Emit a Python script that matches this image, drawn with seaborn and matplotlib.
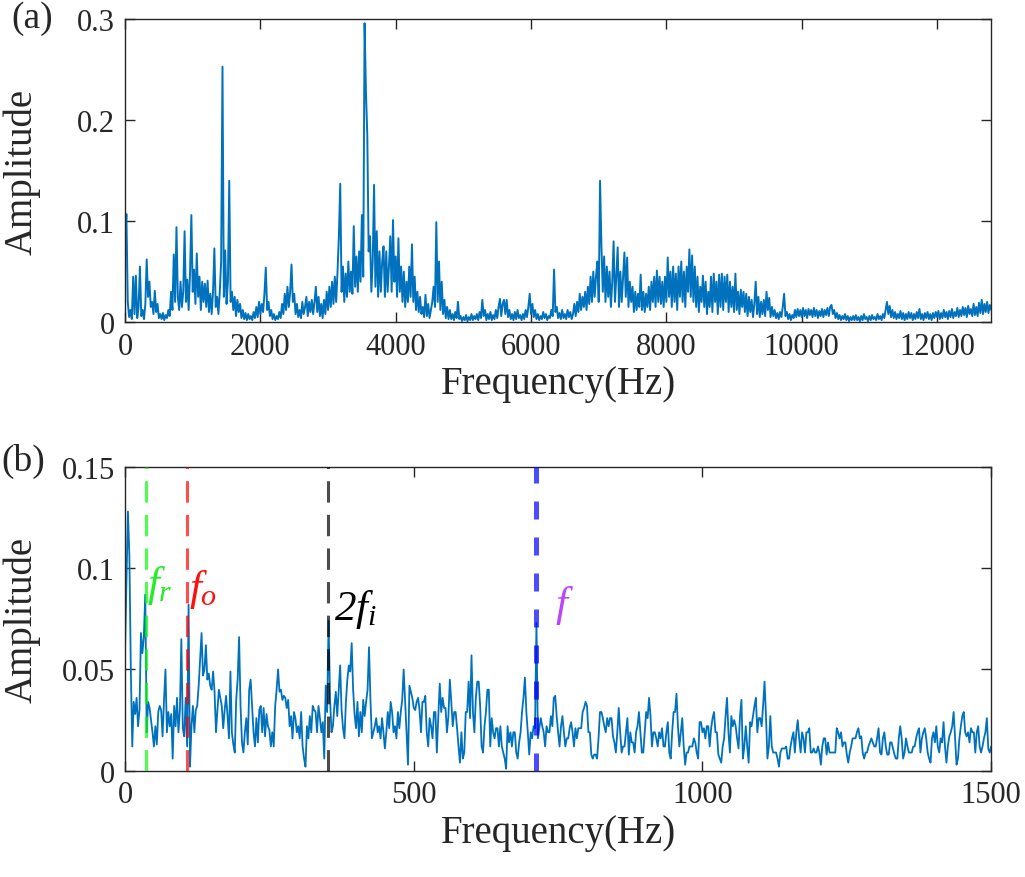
import numpy as np
import matplotlib
matplotlib.use('Agg')
import matplotlib.pyplot as plt
import seaborn as sns

# (a) full spectrum, 20 Hz bins
amp_a_0_3200 = [
    0.080, 0.107, 0.020, 0.005, 0.012, 0.003, 0.045, 0.008, 0.046, 0.004, 0.015, 0.055, 0.006, 0.012, 0.003, 0.018, 0.062, 0.025, 0.040, 0.015,
    0.020, 0.008, 0.031, 0.010, 0.018, 0.004, 0.008, 0.003, 0.009, 0.002, 0.007, 0.004, 0.012, 0.006, 0.030, 0.012, 0.067, 0.020, 0.094, 0.025,
    0.012, 0.040, 0.015, 0.030, 0.090, 0.020, 0.042, 0.012, 0.048, 0.106, 0.030, 0.052, 0.018, 0.068, 0.025, 0.045, 0.012, 0.040, 0.020, 0.038,
    0.015, 0.041, 0.010, 0.028, 0.008, 0.030, 0.073, 0.015, 0.025, 0.008, 0.030, 0.060, 0.253, 0.025, 0.071, 0.018, 0.040, 0.140, 0.020, 0.030,
    0.012, 0.025, 0.006, 0.022, 0.010, 0.018, 0.004, 0.012, 0.003, 0.009, 0.002, 0.008, 0.003, 0.006, 0.002, 0.010, 0.004, 0.015, 0.005, 0.020,
    0.008, 0.018, 0.010, 0.028, 0.054, 0.012, 0.020, 0.006, 0.012, 0.003, 0.008, 0.002, 0.006, 0.003, 0.010, 0.004, 0.018, 0.008, 0.028, 0.012,
    0.035, 0.015, 0.030, 0.057, 0.020, 0.028, 0.008, 0.018, 0.005, 0.012, 0.004, 0.020, 0.008, 0.015, 0.025, 0.006, 0.020, 0.010, 0.022, 0.008,
    0.020, 0.035, 0.010, 0.025, 0.006, 0.018, 0.004, 0.022, 0.008, 0.030, 0.012, 0.035, 0.015, 0.040, 0.018, 0.045, 0.020, 0.050, 0.085, 0.137,
]
amp_a_3200_6400 = [
    0.030, 0.055, 0.020, 0.048, 0.025, 0.060, 0.030, 0.050, 0.028, 0.095, 0.035, 0.065, 0.030, 0.070, 0.040, 0.106, 0.045, 0.296, 0.228, 0.185,
    0.070, 0.085, 0.030, 0.060, 0.136, 0.035, 0.090, 0.025, 0.070, 0.030, 0.060, 0.075, 0.025, 0.070, 0.030, 0.055, 0.085, 0.030, 0.101, 0.040,
    0.065, 0.025, 0.083, 0.030, 0.055, 0.020, 0.050, 0.015, 0.040, 0.020, 0.055, 0.025, 0.077, 0.020, 0.045, 0.012, 0.030, 0.010, 0.025, 0.008,
    0.015, 0.005, 0.027, 0.006, 0.018, 0.004, 0.012, 0.020, 0.035, 0.015, 0.099, 0.020, 0.060, 0.012, 0.040, 0.008, 0.022, 0.004, 0.015, 0.003,
    0.012, 0.003, 0.008, 0.002, 0.010, 0.004, 0.020, 0.003, 0.006, 0.001, 0.005, 0.002, 0.007, 0.001, 0.005, 0.002, 0.008, 0.002, 0.006, 0.003,
    0.008, 0.002, 0.010, 0.004, 0.022, 0.006, 0.012, 0.002, 0.008, 0.003, 0.010, 0.002, 0.007, 0.003, 0.012, 0.004, 0.015, 0.023, 0.006, 0.018,
    0.022, 0.008, 0.022, 0.005, 0.012, 0.003, 0.008, 0.002, 0.010, 0.003, 0.012, 0.004, 0.007, 0.002, 0.008, 0.003, 0.012, 0.005, 0.015, 0.028,
    0.008, 0.018, 0.005, 0.012, 0.003, 0.008, 0.002, 0.006, 0.003, 0.010, 0.004, 0.008, 0.002, 0.006, 0.004, 0.012, 0.006, 0.052, 0.010, 0.015,
]
amp_a_6400_9600 = [
    0.004, 0.009, 0.003, 0.012, 0.004, 0.008, 0.003, 0.012, 0.005, 0.010, 0.003, 0.008, 0.018, 0.006, 0.020, 0.010, 0.028, 0.012, 0.025, 0.015,
    0.030, 0.012, 0.035, 0.018, 0.045, 0.020, 0.050, 0.025, 0.045, 0.060, 0.020, 0.140, 0.076, 0.030, 0.065, 0.020, 0.055, 0.025, 0.050, 0.015,
    0.040, 0.080, 0.020, 0.045, 0.074, 0.015, 0.050, 0.020, 0.045, 0.069, 0.025, 0.064, 0.015, 0.040, 0.020, 0.035, 0.010, 0.030, 0.012, 0.028,
    0.015, 0.047, 0.012, 0.030, 0.010, 0.028, 0.015, 0.035, 0.012, 0.040, 0.020, 0.045, 0.015, 0.051, 0.020, 0.045, 0.018, 0.040, 0.015, 0.045,
    0.020, 0.064, 0.025, 0.050, 0.015, 0.055, 0.020, 0.048, 0.012, 0.055, 0.025, 0.060, 0.020, 0.050, 0.015, 0.055, 0.030, 0.072, 0.025, 0.066,
    0.020, 0.055, 0.015, 0.045, 0.010, 0.035, 0.020, 0.046, 0.015, 0.040, 0.008, 0.030, 0.015, 0.045, 0.010, 0.048, 0.020, 0.040, 0.008, 0.047,
    0.015, 0.048, 0.012, 0.045, 0.020, 0.047, 0.010, 0.040, 0.015, 0.035, 0.010, 0.048, 0.012, 0.030, 0.008, 0.032, 0.015, 0.030, 0.010, 0.028,
    0.006, 0.025, 0.010, 0.022, 0.005, 0.018, 0.040, 0.008, 0.025, 0.005, 0.020, 0.008, 0.022, 0.006, 0.030, 0.012, 0.024, 0.005, 0.015, 0.006,
]
amp_a_9600_12800 = [
    0.012, 0.004, 0.009, 0.003, 0.010, 0.005, 0.015, 0.028, 0.006, 0.010, 0.003, 0.008, 0.002, 0.007, 0.004, 0.012, 0.005, 0.013, 0.006, 0.012,
    0.005, 0.014, 0.006, 0.012, 0.004, 0.013, 0.007, 0.012, 0.005, 0.014, 0.006, 0.012, 0.004, 0.011, 0.006, 0.013, 0.005, 0.012, 0.007, 0.014,
    0.006, 0.015, 0.017, 0.008, 0.012, 0.004, 0.009, 0.003, 0.007, 0.002, 0.006, 0.003, 0.008, 0.002, 0.006, 0.001, 0.005, 0.002, 0.006, 0.002,
    0.007, 0.002, 0.005, 0.001, 0.006, 0.002, 0.008, 0.003, 0.005, 0.001, 0.006, 0.002, 0.007, 0.003, 0.005, 0.002, 0.008, 0.003, 0.006, 0.002,
    0.008, 0.004, 0.012, 0.020, 0.008, 0.016, 0.005, 0.012, 0.004, 0.010, 0.003, 0.008, 0.004, 0.011, 0.003, 0.009, 0.002, 0.008, 0.003, 0.010,
    0.004, 0.009, 0.002, 0.008, 0.003, 0.010, 0.004, 0.013, 0.003, 0.008, 0.002, 0.009, 0.004, 0.010, 0.003, 0.008, 0.002, 0.009, 0.004, 0.010,
    0.005, 0.011, 0.003, 0.009, 0.004, 0.012, 0.005, 0.010, 0.003, 0.011, 0.005, 0.013, 0.004, 0.010, 0.006, 0.014, 0.005, 0.012, 0.006, 0.015,
    0.007, 0.014, 0.005, 0.016, 0.008, 0.013, 0.006, 0.018, 0.007, 0.015, 0.006, 0.019, 0.009, 0.022, 0.008, 0.018, 0.010, 0.020, 0.009, 0.017, 0.012,
]

# (b) envelope spectrum 0-1500 Hz, 2.5 Hz bins
amp_b_0_500 = [
    0.060, 0.095, 0.128, 0.106, 0.050, 0.012, 0.034, 0.028, 0.036, 0.022, 0.030, 0.068, 0.058, 0.066, 0.087, 0.019, 0.034, 0.031, 0.025, 0.019,
    0.012, 0.022, 0.013, 0.029, 0.032, 0.030, 0.017, 0.035, 0.050, 0.019, 0.029, 0.022, 0.028, 0.006, 0.032, 0.022, 0.036, 0.019, 0.030, 0.065,
    0.021, 0.017, 0.036, 0.012, 0.082, 0.002, 0.022, 0.032, 0.019, 0.030, 0.032, 0.042, 0.055, 0.068, 0.047, 0.050, 0.062, 0.045, 0.048, 0.042,
    0.040, 0.049, 0.039, 0.019, 0.030, 0.040, 0.036, 0.032, 0.021, 0.030, 0.037, 0.027, 0.016, 0.049, 0.019, 0.013, 0.009, 0.035, 0.045, 0.066,
    0.032, 0.014, 0.009, 0.019, 0.026, 0.013, 0.040, 0.045, 0.032, 0.019, 0.012, 0.026, 0.014, 0.030, 0.032, 0.019, 0.031, 0.017, 0.028, 0.022,
    0.020, 0.012, 0.019, 0.012, 0.032, 0.040, 0.050, 0.039, 0.040, 0.035, 0.037, 0.036, 0.031, 0.035, 0.022, 0.027, 0.016, 0.029, 0.026, 0.019,
    0.022, 0.016, 0.029, 0.012, 0.006, 0.002, 0.022, 0.016, 0.027, 0.019, 0.032, 0.030, 0.029, 0.019, 0.032, 0.026, 0.019, 0.024, 0.006, 0.042,
    0.029, 0.074, 0.036, 0.019, 0.022, 0.032, 0.039, 0.027, 0.040, 0.052, 0.030, 0.021, 0.016, 0.034, 0.045, 0.052, 0.049, 0.063, 0.040, 0.028,
    0.021, 0.034, 0.017, 0.029, 0.019, 0.035, 0.027, 0.034, 0.040, 0.061, 0.035, 0.016, 0.019, 0.022, 0.026, 0.019, 0.022, 0.016, 0.026, 0.019,
    0.011, 0.019, 0.029, 0.021, 0.034, 0.029, 0.019, 0.022, 0.016, 0.029, 0.021, 0.029, 0.035, 0.050, 0.035, 0.019, 0.003, 0.042, 0.039, 0.036,
]
amp_b_500_1000 = [
    0.031, 0.030, 0.034, 0.036, 0.030, 0.019, 0.034, 0.034, 0.037, 0.019, 0.012, 0.026, 0.022, 0.016, 0.029, 0.029, 0.009, 0.027, 0.043, 0.029,
    0.036, 0.031, 0.031, 0.019, 0.027, 0.045, 0.034, 0.022, 0.029, 0.029, 0.021, 0.012, 0.004, 0.019, 0.006, 0.009, 0.029, 0.029, 0.044, 0.026,
    0.057, 0.029, 0.019, 0.036, 0.044, 0.044, 0.032, 0.012, 0.009, 0.022, 0.029, 0.040, 0.040, 0.012, 0.026, 0.019, 0.016, 0.021, 0.021, 0.012,
    0.022, 0.012, 0.009, 0.006, 0.001, 0.022, 0.014, 0.019, 0.012, 0.019, 0.019, 0.009, 0.006, 0.014, 0.019, 0.029, 0.036, 0.046, 0.029, 0.019,
    0.008, 0.019, 0.016, 0.022, 0.021, 0.073, 0.016, 0.021, 0.026, 0.022, 0.019, 0.012, 0.022, 0.019, 0.019, 0.027, 0.022, 0.036, 0.037, 0.027,
    0.019, 0.012, 0.022, 0.027, 0.019, 0.012, 0.016, 0.016, 0.021, 0.024, 0.019, 0.012, 0.021, 0.016, 0.021, 0.021, 0.021, 0.029, 0.031, 0.034,
    0.032, 0.019, 0.019, 0.008, 0.006, 0.008, 0.008, 0.006, 0.016, 0.029, 0.029, 0.026, 0.022, 0.019, 0.026, 0.022, 0.026, 0.026, 0.017, 0.014,
    0.009, 0.019, 0.031, 0.019, 0.009, 0.012, 0.012, 0.019, 0.026, 0.008, 0.019, 0.014, 0.014, 0.009, 0.019, 0.022, 0.029, 0.019, 0.009, 0.009,
    0.019, 0.029, 0.026, 0.036, 0.027, 0.012, 0.019, 0.019, 0.016, 0.012, 0.019, 0.016, 0.021, 0.012, 0.012, 0.019, 0.024, 0.009, 0.006, 0.019,
    0.029, 0.029, 0.038, 0.022, 0.012, 0.019, 0.026, 0.012, 0.003, 0.009, 0.009, 0.012, 0.012, 0.012, 0.016, 0.014, 0.009, 0.006, 0.024, 0.024,
]
amp_b_1000_1500 = [
    0.019, 0.021, 0.016, 0.022, 0.022, 0.012, 0.021, 0.026, 0.029, 0.019, 0.019, 0.008, 0.006, 0.004, 0.012, 0.016, 0.027, 0.036, 0.019, 0.009,
    0.027, 0.022, 0.025, 0.022, 0.016, 0.011, 0.027, 0.035, 0.006, 0.012, 0.022, 0.012, 0.004, 0.024, 0.022, 0.027, 0.032, 0.036, 0.019, 0.026,
    0.026, 0.022, 0.032, 0.044, 0.027, 0.006, 0.012, 0.027, 0.012, 0.009, 0.009, 0.009, 0.006, 0.002, 0.009, 0.011, 0.011, 0.011, 0.012, 0.006,
    0.006, 0.012, 0.016, 0.019, 0.009, 0.019, 0.025, 0.016, 0.009, 0.019, 0.016, 0.009, 0.019, 0.019, 0.021, 0.009, 0.009, 0.011, 0.009, 0.009,
    0.012, 0.009, 0.003, 0.012, 0.016, 0.016, 0.008, 0.014, 0.009, 0.009, 0.009, 0.009, 0.009, 0.021, 0.019, 0.016, 0.019, 0.012, 0.014, 0.014,
    0.008, 0.004, 0.009, 0.012, 0.016, 0.016, 0.016, 0.019, 0.021, 0.016, 0.017, 0.009, 0.006, 0.009, 0.009, 0.012, 0.014, 0.016, 0.014, 0.012,
    0.012, 0.016, 0.021, 0.009, 0.008, 0.016, 0.019, 0.012, 0.008, 0.008, 0.014, 0.014, 0.011, 0.008, 0.006, 0.006, 0.016, 0.022, 0.016, 0.006,
    0.009, 0.016, 0.012, 0.009, 0.009, 0.009, 0.012, 0.012, 0.016, 0.019, 0.021, 0.009, 0.016, 0.019, 0.021, 0.016, 0.009, 0.006, 0.004, 0.016,
    0.019, 0.014, 0.022, 0.012, 0.009, 0.016, 0.014, 0.024, 0.012, 0.004, 0.012, 0.017, 0.019, 0.022, 0.029, 0.016, 0.003, 0.006, 0.016, 0.022,
    0.027, 0.029, 0.019, 0.017, 0.019, 0.014, 0.021, 0.019, 0.019, 0.009, 0.019, 0.022, 0.012, 0.009, 0.012, 0.016, 0.019, 0.026, 0.011, 0.009, 0.012,
]

amp_a = np.array(amp_a_0_3200 + amp_a_3200_6400 + amp_a_6400_9600 + amp_a_9600_12800)
amp_b = np.array(amp_b_0_500 + amp_b_500_1000 + amp_b_1000_1500)
freq_a = np.linspace(0, 12800, len(amp_a))
freq_b = np.linspace(0, 1500, len(amp_b))

# characteristic frequencies marked in (b)
mark_freqs = [37, 108, 351, 712]
mark_colors = ['#00ff00', '#ff0000', '#000000', '#0000ff']
mark_widths = [2.2, 2.2, 2.2, 3.6]
mark_dashes = [(0, (7, 4)), (0, (7, 4)), (0, (7, 4)), (0, (3.6, 3.6))]
mark_texts = [r'$f_r$', r'$f_o$', r'$2f_i$', r'$f$']
mark_text_colors = ['#22ee22', '#ff1010', '#000000', '#b845ff']
mark_text_x = [38, 111, 362, 745]
mark_text_y = [0.092, 0.090, 0.080, 0.082]

sns.set_style('ticks')
plt.rcParams['font.family'] = ['Liberation Serif', 'DejaVu Serif']
# all math labels are italic, digits included (the "2" in 2f_i)
plt.rcParams['mathtext.fontset'] = 'custom'
plt.rcParams['mathtext.rm'] = 'Liberation Serif:italic'
plt.rcParams['mathtext.it'] = 'Liberation Serif:italic'

line_col = '#0072BD'
fig = plt.figure(figsize=(10.25, 8.78), dpi=100)
ax1 = fig.add_axes([0.122, 0.632, 0.845, 0.345])
ax2 = fig.add_axes([0.122, 0.121, 0.845, 0.346])

sns.lineplot(x=freq_a, y=amp_a, ax=ax1, color=line_col, linewidth=1.4)
sns.lineplot(x=freq_b, y=amp_b, ax=ax2, color=line_col, linewidth=1.3)

for xv, c, lw, ds in zip(mark_freqs, mark_colors, mark_widths, mark_dashes):
    ax2.axvline(xv, color=c, lw=lw, ls=ds, alpha=0.7, zorder=3)
for tx, ty, t, c in zip(mark_text_x, mark_text_y, mark_texts, mark_text_colors):
    ax2.text(tx, ty, t, color=c, fontsize=31, ha='left', va='center')

ax1.set_xlim(0, 12800)
ax1.set_ylim(0, 0.3)
ax1.set_xticks([0, 2000, 4000, 6000, 8000, 10000, 12000])
ax1.set_yticks([0, 0.1, 0.2, 0.3])
ax1.set_yticklabels(['0', '0.1', '0.2', '0.3'])

ax2.set_xlim(0, 1500)
ax2.set_ylim(0, 0.15)
ax2.set_xticks([0, 500, 1000, 1500])
ax2.set_yticks([0, 0.05, 0.1, 0.15])
ax2.set_yticklabels(['0', '0.05', '0.1', '0.15'])

for ax in [ax1, ax2]:
    ax.set_xlabel('Frequency(Hz)', fontsize=28, labelpad=3)
    ax.set_ylabel('Amplitude', fontsize=28)
    ax.yaxis.set_label_coords(-0.097, 0.5)
    ax.tick_params(direction='in', top=True, right=True, length=7, width=1.0,
                   labelsize=22, color='#262626', labelcolor='#262626', pad=7)
    for spine in ax.spines.values():
        spine.set_visible(True)
        spine.set_color('#262626')
        spine.set_linewidth(1.0)

fig.text(0.011, 0.998, '(a)', fontsize=27, ha='left', va='top')
fig.text(0.001, 0.494, '(b)', fontsize=27, ha='left', va='top')

fig.savefig('out.png', dpi=100)
